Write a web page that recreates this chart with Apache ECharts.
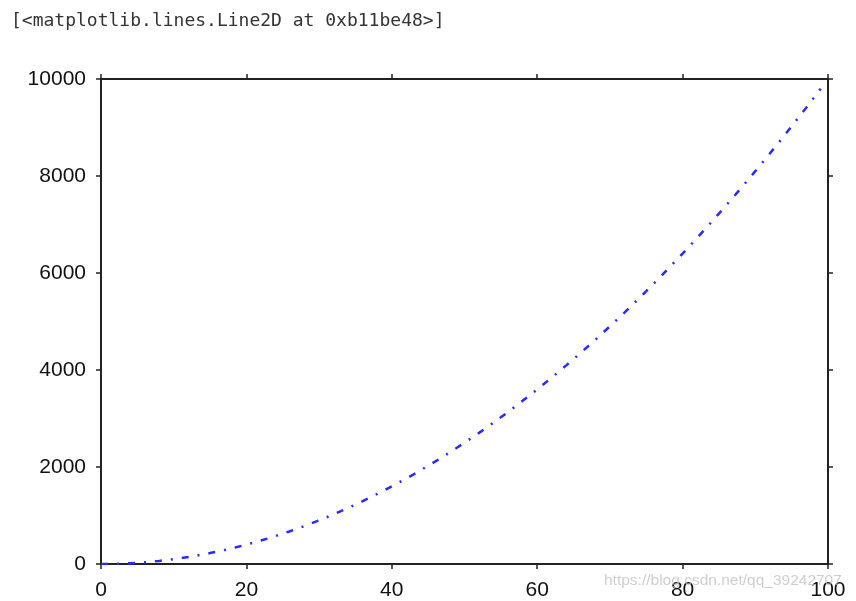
<!DOCTYPE html>
<html>
<head>
<meta charset="utf-8">
<script src="https://cdn.jsdelivr.net/npm/echarts@6/dist/echarts.min.js"></script>
<style>
html,body{margin:0;padding:0;background:#fff;}
#c{width:856px;height:601px;}
</style>
</head>
<body>
<div id="c"></div>
<script>
const xValues = [0,1,2,3,4,5,6,7,8,9,10,11,12,13,14,15,16,17,18,19,20,21,22,23,24,25,26,27,28,29,30,31,32,33,34,35,36,37,38,39,40,41,42,43,44,45,46,47,48,49,50,51,52,53,54,55,56,57,58,59,60,61,62,63,64,65,66,67,68,69,70,71,72,73,74,75,76,77,78,79,80,81,82,83,84,85,86,87,88,89,90,91,92,93,94,95,96,97,98,99];
const yValues = [0,1,4,9,16,25,36,49,64,81,100,121,144,169,196,225,256,289,324,361,400,441,484,529,576,625,676,729,784,841,900,961,1024,1089,1156,1225,1296,1369,1444,1521,1600,1681,1764,1849,1936,2025,2116,2209,2304,2401,2500,2601,2704,2809,2916,3025,3136,3249,3364,3481,3600,3721,3844,3969,4096,4225,4356,4489,4624,4761,4900,5041,5184,5329,5476,5625,5776,5929,6084,6241,6400,6561,6724,6889,7056,7225,7396,7569,7744,7921,8100,8281,8464,8649,8836,9025,9216,9409,9604,9801];
const xTicks = [0,20,40,60,80,100];
const yTicks = [0,2000,4000,6000,8000,10000];
const headerText = '[<matplotlib.lines.Line2D at 0xb11be48>]';
const watermark = 'https://blog.csdn.net/qq_39242707';

const chart = echarts.init(document.getElementById('c'), null, {renderer:'canvas'});
const axisLine = {show:true, onZero:false, lineStyle:{color:'#222', width:2}};
const axisTick = {show:true, inside:false, length:5, lineStyle:{color:'#222', width:1.5}};
const labelFont = {color:'#111', fontFamily:'Liberation Sans', fontSize:21, formatter:(v)=>String(v)};
chart.setOption({
  animation:false,
  backgroundColor:'#fff',
  grid:{left:101, right:28, top:79, bottom:37},
  graphic:[
    {type:'text', left:11, top:12, style:{text:headerText, font:'18px "DejaVu Sans Mono"', fill:'#333'}},
    {type:'text', left:604, top:573, z:100, style:{text:watermark, font:'15.5px "Liberation Sans"', fill:'rgba(190,190,190,0.75)'}}
  ],
  xAxis:[
    {type:'value', position:'bottom', min:xTicks[0], max:xTicks[xTicks.length-1], interval:20,
     axisLine:axisLine, axisTick:axisTick, splitLine:{show:false},
     axisLabel:Object.assign({margin:16}, labelFont)},
    {type:'value', position:'top', min:xTicks[0], max:xTicks[xTicks.length-1], interval:20,
     axisLine:axisLine, axisTick:axisTick, splitLine:{show:false}, axisLabel:{show:false}}
  ],
  yAxis:[
    {type:'value', position:'left', min:yTicks[0], max:yTicks[yTicks.length-1], interval:2000,
     axisLine:axisLine, axisTick:axisTick, splitLine:{show:false},
     axisLabel:Object.assign({margin:15}, labelFont)},
    {type:'value', position:'right', min:yTicks[0], max:yTicks[yTicks.length-1], interval:2000,
     axisLine:axisLine, axisTick:axisTick, splitLine:{show:false}, axisLabel:{show:false}}
  ],
  series:[{
    type:'line', xAxisIndex:0, yAxisIndex:0,
    data:xValues.map((x,i)=>[x,yValues[i]]),
    showSymbol:false, symbol:'none',
    lineStyle:{color:'#2a2aff', width:2.5, type:[7,9,2,9], cap:'butt'}
  }]
});
</script>
</body>
</html>
